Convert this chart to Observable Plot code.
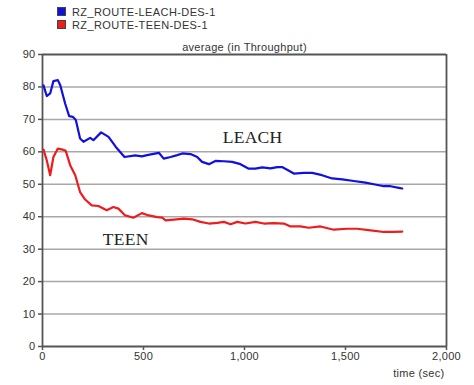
<!DOCTYPE html>
<html>
<head>
<meta charset="utf-8">
<script src="https://cdn.jsdelivr.net/npm/d3@7"></script>
<script src="https://cdn.jsdelivr.net/npm/@observablehq/plot@0.6"></script>
<style>
  html, body { margin: 0; padding: 0; background: #fff; }
  #wrap { position: relative; width: 474px; height: 385px; font-family: "Liberation Sans", Arial, sans-serif; }
  #legend { position: absolute; left: 57px; top: 5px; font-size: 11px; color: #333; letter-spacing: 0.4px; }
  #legend .item { display: flex; align-items: center; height: 13px; }
  #legend .sw { width: 7px; height: 7px; margin-right: 6px; border: 0.5px solid #444; }
  #chart { position: absolute; left: 0; top: 0; }
  #chart svg text { letter-spacing: 0.3px; }
</style>
</head>
<body>
<div id="wrap">
  <div id="chart"></div>
  <div id="legend"></div>
</div>
<script>
const seriesNames = ["RZ_ROUTE-LEACH-DES-1", "RZ_ROUTE-TEEN-DES-1"];
const seriesColors = ["#1010e0", "#ee1c1c"];

const leachTime = [5,21,38,54,76,88,112,132,150,165,186,203,236,252,290,327,363,406,459,492,518,543,576,600,634,667,692,733,766,790,824,856,898,939,980,1021,1054,1088,1129,1162,1186,1211,1244,1294,1335,1384,1434,1484,1541,1599,1640,1690,1723,1764,1781];
const leachValues = [80.5,77.2,78,81.8,82.1,80.5,74.9,71,70.8,69.8,64.1,63.1,64.3,63.6,66,64.6,61.5,58.4,58.9,58.6,59,59.3,59.7,57.9,58.4,59,59.5,59.3,58.4,56.9,56.2,57.2,57.1,56.9,56.2,54.8,54.8,55.2,54.9,55.3,55.3,54.5,53.3,53.5,53.5,52.8,51.8,51.5,51,50.5,50,49.4,49.4,48.9,48.7];

const teenTime = [5,21,38,54,76,99,115,137,162,186,211,244,277,318,351,376,409,450,492,526,568,593,609,650,700,741,782,824,865,898,931,964,1005,1054,1096,1145,1195,1228,1277,1318,1376,1442,1508,1558,1624,1690,1739,1781];
const teenValues = [60.7,57.4,52.8,58.4,61,60.7,60.3,55.9,52.8,47.6,45.3,43.5,43.3,42,43,42.5,40.4,39.7,41.1,40.4,39.9,39.7,38.9,39.1,39.4,39.2,38.4,37.9,38.1,38.4,37.7,38.4,37.9,38.4,37.9,38.0,37.9,37,37,36.6,37,36,36.3,36.3,35.8,35.3,35.3,35.4];

const yTicks = [0,10,20,30,40,50,60,70,80,90];
const xTicks = [0,500,1000,1500,2000];
const yLabel = "average (in Throughput)";
const xLabel = "time (sec)";
const annotations = [
  {x: 1040, y: 64.4, text: "LEACH"},
  {x: 412, y: 32.9, text: "TEEN"}
];

const leach = leachTime.map((t, i) => ({t, v: leachValues[i], s: seriesNames[0]}));
const teen = teenTime.map((t, i) => ({t, v: teenValues[i], s: seriesNames[1]}));

const frameColor = "#555";
const plot = Plot.plot({
  width: 474,
  height: 385,
  marginLeft: 42,
  marginRight: 28,
  marginTop: 54,
  marginBottom: 39,
  style: {fontFamily: "Liberation Sans, Arial, sans-serif", fontSize: "11px", color: "#333", background: "transparent"},
  x: {domain: [0, 2000]},
  y: {domain: [0, 90]},
  marks: [
    Plot.ruleY(yTicks.filter(d => d > 0 && d < 90), {stroke: "#a8a8a8", strokeWidth: 1.5}),
    Plot.ruleY([90], {stroke: frameColor, strokeWidth: 1.8}),
    Plot.ruleX([2000], {stroke: frameColor, strokeWidth: 1.8}),
    Plot.ruleX([0], {stroke: frameColor, strokeWidth: 1.8}),
    Plot.ruleY([0], {stroke: frameColor, strokeWidth: 1.8}),
    Plot.axisY({ticks: yTicks, tickSize: 4, tickPadding: 3, label: null, stroke: frameColor, strokeWidth: 1.5}),
    Plot.axisX({ticks: xTicks, tickSize: 4, tickPadding: 2, label: null, tickFormat: d3.format(","), stroke: frameColor, strokeWidth: 1.5}),
    Plot.line(leach, {x: "t", y: "v", stroke: seriesColors[0], strokeWidth: 2.2, curve: "linear"}),
    Plot.line(teen, {x: "t", y: "v", stroke: seriesColors[1], strokeWidth: 2.2, curve: "linear"}),
    Plot.text(annotations, {x: "x", y: "y", text: "text", fontFamily: "Liberation Serif, Times New Roman, serif", fontSize: 17.5, fill: "#222"}),
    Plot.text([yLabel], {frameAnchor: "top", lineAnchor: "bottom", dy: -4, fill: "#333"}),
    Plot.text([xLabel], {frameAnchor: "bottom-right", textAnchor: "end", lineAnchor: "middle", dy: 27, dx: -2, fill: "#333"})
  ]
});
document.getElementById("chart").appendChild(plot);

const legend = document.getElementById("legend");
seriesNames.forEach((name, i) => {
  const item = document.createElement("div");
  item.className = "item";
  const sw = document.createElement("span");
  sw.className = "sw";
  sw.style.background = seriesColors[i];
  const label = document.createElement("span");
  label.textContent = name;
  item.appendChild(sw);
  item.appendChild(label);
  legend.appendChild(item);
});
</script>
</body>
</html>
